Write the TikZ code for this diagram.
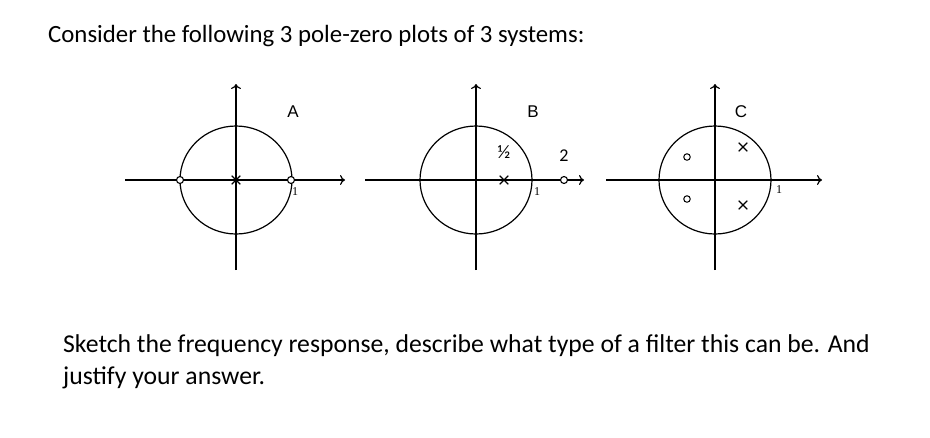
\documentclass[tikz,border=0pt]{standalone}
\usetikzlibrary{arrows.meta,shapes.misc}
\usepackage{fontspec}
\setmainfont{Carlito}
\newfontfamily\arialf{Liberation Sans}
\newfontfamily\timesf{Liberation Serif}
\begin{document}
\begin{tikzpicture}[x=1pt,y=-1pt,
  ax/.style={line width=1.2pt,-{To[length=5pt,width=10pt]}},
  circ/.style={line width=1.2pt},
  zero/.style={circle,draw,line width=1.1pt,fill=white,minimum size=7pt,inner sep=0pt},
  ozero/.style={circle,draw,line width=1pt,minimum size=6.5pt,inner sep=0pt},
  pole/.style={cross out,draw,line width=1.1pt,minimum size=7.5pt,inner sep=0pt},
  lab/.style={font=\arialf\fontsize{17}{17}\selectfont},
  one/.style={font=\timesf\fontsize{12}{12}\selectfont,inner sep=0pt},
  txt/.style={font=\fontsize{24.8}{32}\selectfont,anchor=west,inner sep=0pt}]
\useasboundingbox (0,0) rectangle (930,437);
\node[txt] (title) at (48,36) {Consider the following 3 pole-zero plots of 3 systems:};
% A
\draw[ax] (125,180) -- (345,180);
\draw[ax] (236,270) -- (236,84);
\draw[circ] (236,180) ellipse [x radius=56, y radius=54];
\node[zero] (a1) at (180,180) {};
\node[zero] (a2) at (291,180) {};
\node[pole] (a3) at (236,180) {};
\node[lab] (la) at (293,112) {A};
\node[one] (a4) at (295,192) {1};
% B
\draw[ax] (365,180) -- (584,180);
\draw[ax] (476,270) -- (476,84);
\draw[circ] (476,180) ellipse [x radius=56, y radius=54];
\node[pole] (b1) at (504,180) {};
\node[zero] (b2) at (564,180) {};
\node[lab] (lb) at (533,112) {B};
\node[font=\fontsize{19}{19}\selectfont] (bh) at (504,152) {½};
\node[font=\fontsize{18}{18}\selectfont] (b2l) at (564,156) {2};
\node[one] (b3) at (537,192) {1};
% C
\draw[ax] (606,180) -- (822,180);
\draw[ax] (715,270) -- (715,84);
\draw[circ] (715,180) ellipse [x radius=56, y radius=54];
\node[ozero] (c1) at (687,157) {};
\node[ozero] (c2) at (687,199) {};
\node[pole] (c3) at (743,147) {};
\node[pole] (c4) at (743,205) {};
\node[lab] (lc) at (741,112) {C};
\node[one] (c5) at (779,190) {1};
% bottom text
\node[txt,font=\fontsize{25.7}{32}\selectfont] (t1) at (63,346) {Sketch the frequency response, describe what type of a filter this can be. And};
\node[txt,font=\fontsize{25.7}{32}\selectfont] (t2) at (63,378) {justify your answer.};
\end{tikzpicture}
\end{document}
